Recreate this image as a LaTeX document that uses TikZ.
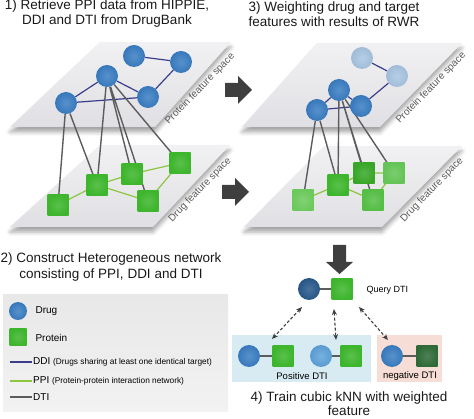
\documentclass[tikz,border=0pt]{standalone}
\usepackage{fontspec}
\setmainfont{Liberation Sans}
\usetikzlibrary{shadows.blur,arrows.meta}
\definecolor{cDrug}{HTML}{3A7EC4}
\definecolor{cDrugLight}{HTML}{A9C6E3}
\definecolor{cDrugMid}{HTML}{5EA3DB}
\definecolor{cDrugDark}{HTML}{285A8C}
\definecolor{cProt}{HTML}{3DB52C}
\definecolor{cProtLight}{HTML}{6CC95C}
\definecolor{cProtDark}{HTML}{2E6A38}
\definecolor{cDDI}{HTML}{3B3D8C}
\definecolor{cPPI}{HTML}{8CC63F}
\definecolor{cDTI}{HTML}{5C5C5C}
\definecolor{cArrow}{HTML}{3F3F3F}
\definecolor{cPlaneT}{HTML}{F1F1F3}
\definecolor{cPlaneB}{HTML}{E0E0E4}
\definecolor{cPos}{HTML}{D9EBF2}
\definecolor{cNeg}{HTML}{F6DDD5}
\pgfdeclarelayer{bg}\pgfdeclarelayer{mid}\pgfsetlayers{bg,mid,main}

\begin{document}
\begin{tikzpicture}[x=1pt,y=-1pt,
  drug/.style={circle,minimum size=22pt,inner sep=0pt,inner color=#1!85!white,outer color=#1!95!black},
  drug/.default=cDrug,
  prot/.style={rectangle,minimum size=21pt,inner sep=0pt,inner color=#1!85!white,outer color=#1},
  prot/.default=cProt,
  ddi/.style={cDDI,line width=1.2pt},
  ppi/.style={cPPI,line width=1.2pt},
  dti/.style={cDTI,line width=1.4pt},
  plane/.style={top color=cPlaneT,bottom color=cPlaneB,
    blur shadow={shadow xshift=0pt,shadow yshift=-5pt,shadow blur radius=4pt,shadow opacity=35}},
  planelbl/.style={rotate=46,text=black!65,font=\fontsize{10}{11}\selectfont},
  title/.style={align=center,text=black!90,font=\fontsize{13.5}{15.5}\selectfont},
  bigarrow/.style={fill=cArrow},
  simarr/.style={cArrow,densely dashed,line width=1.1pt,{Stealth[length=6pt,width=5pt]}-{Stealth[length=6pt,width=5pt]}}]
\useasboundingbox (0,0) rectangle (474,419);

% feature planes
\begin{pgfonlayer}{bg}
\shade[plane] (100,42)--(231,42)--(155,127)--(10,127)--cycle;
\shade[plane] (100,145)--(230,145)--(153,227)--(10,227)--cycle;
\shade[plane] (317,43)--(462,43)--(380,127)--(242,127)--cycle;
\shade[plane] (324,146)--(462,146)--(382,227)--(244,227)--cycle;
\fill[cPos] (232,335) rectangle (371,382);
\fill[cNeg] (377,335) rectangle (442,382);
\shade[top color=black!9,bottom color=black!5] (3,295) rectangle (228,412);
\end{pgfonlayer}
\node[planelbl] (pl1) at (200,89) {Protein feature space};
\node[planelbl] (pl2) at (200,190) {Drug feature space};
\node[planelbl] (pl3) at (431,88) {Protein feature space};
\node[planelbl] (pl4) at (432,190) {Drug feature space};

% 1) raw network
\node[drug] (a1) at (134,56) {};
\node[drug] (b1) at (181,62) {};
\node[drug] (c1) at (107,76) {};
\node[drug] (d1) at (148,97) {};
\node[drug] (e1) at (66,103) {};
\node[prot] (s11) at (58,205) {};
\node[prot] (s12) at (97,185) {};
\node[prot] (s13) at (132,174) {};
\node[prot] (s14) at (180,163) {};
\node[prot] (s15) at (148,201) {};
\begin{pgfonlayer}{mid}
\draw[ddi] (a1)--(b1) (b1)--(d1) (c1)--(e1) (c1)--(d1) (e1)--(d1);
\draw[ppi] (s11)--(s12) (s12)--(s13) (s12)--(s15) (s13)--(s14) (s14)--(s15);
\draw[dti] (e1)--(s11) (e1)--(s12) (c1)--(s12) (c1)--(s13) (c1)--(s15) (c1)--(s14);
\end{pgfonlayer}

% 3) weighted network
\node[drug=cDrugLight] (a3) at (362,58) {};
\node[drug=cDrugLight] (b3) at (397,76) {};
\node[drug] (c3) at (339,90) {};
\node[drug] (d3) at (361,106) {};
\node[drug] (e3) at (317,110) {};
\node[prot=cProtLight] (s31) at (303,200) {};
\node[prot] (s32) at (338,185) {};
\node[prot=cProt!92!black] (s33) at (364,173) {};
\node[prot=cProt!80!white] (s34) at (394,173) {};
\node[prot=cProt!88!white] (s35) at (373,200) {};
\begin{pgfonlayer}{mid}
\draw[ddi] (a3)--(b3) (b3)--(d3) (c3)--(e3) (c3)--(d3) (e3)--(d3);
\draw[ppi] (s31)--(s32) (s32)--(s33) (s32)--(s35) (s33)--(s34) (s34)--(s35);
\draw[dti] (e3)--(s31) (e3)--(s32) (c3)--(s32) (c3)--(s33) (c3)--(s35) (c3)--(s34);
\end{pgfonlayer}

% block arrows
\fill[bigarrow] (225,83)--(238,83)--(238,76)--(252,90)--(238,104)--(238,97)--(225,97)--cycle;
\fill[bigarrow] (222,185)--(235,185)--(235,178)--(249,192)--(235,206)--(235,199)--(222,199)--cycle;
\fill[bigarrow] (333,245)--(346,245)--(346,262)--(353,262)--(339.5,274)--(326,262)--(333,262)--cycle;

% titles
\node[title] (t1) at (107,13.5) {1) Retrieve PPI data from HIPPIE,\\DDI and DTI from DrugBank};
\node[title] (t3) at (334,14) {3) Weighting drug and target\\features with results of RWR};
\node[title] (t2) at (111,267) {2) Construct Heterogeneous network\\consisting of PPI, DDI and DTI};
\node[title,font=\fontsize{13.5}{14.5}\selectfont] (t4) at (349,403.5) {4) Train cubic kNN with weighted\\feature};

% legend
\node[drug,minimum size=18pt] (lgdrug) at (18,311) {};
\node[anchor=west,font=\fontsize{10}{12}\selectfont] (lgdrugt) at (32,311) {Drug};
\node[prot,minimum size=17pt] (lgprot) at (18,337) {};
\node[anchor=west,font=\fontsize{10}{12}\selectfont] (lgprott) at (32,338) {Protein};
\coordinate (lgd1) at (10,362); \coordinate (lgd2) at (32,362);
\coordinate (lgp1) at (10,381); \coordinate (lgp2) at (32,381);
\coordinate (lgt1) at (10,397); \coordinate (lgt2) at (32,397);
\draw[ddi] (lgd1)--(lgd2); \draw[ppi] (lgp1)--(lgp2); \draw[dti] (lgt1)--(lgt2);
\node[anchor=west,inner sep=1pt,font=\fontsize{10}{12}\selectfont] (lgddi) at (lgd2) {DDI {\fontsize{8.3}{10}\selectfont(Drugs sharing at least one identical target)}};
\node[anchor=west,inner sep=1pt,font=\fontsize{10}{12}\selectfont] (lgppi) at (lgp2) {PPI {\fontsize{8.3}{10}\selectfont(Protein-protein interaction network)}};
\node[anchor=west,inner sep=1pt,font=\fontsize{10}{12}\selectfont] (lgdti) at (lgt2) {DTI};

% 4) kNN
\node[drug=cDrugDark] (qd) at (309,289) {};
\node[prot] (qp) at (342,289) {};
\node[anchor=west,font=\fontsize{9}{11}\selectfont] (ql) at (363,290) {Query DTI};
\node[drug] (pd1) at (249,356) {};
\node[prot] (pp1) at (283,356) {};
\node[drug=cDrugMid] (pd2) at (321,356) {};
\node[prot] (pp2) at (351,356) {};
\node[drug] (nd) at (392,356) {};
\node[prot=cProtDark] (np) at (427,356) {};
\draw[dti,line width=1.4pt] (qd)--(qp) (pd1)--(pp1) (pd2)--(pp2) (nd)--(np);
\node[font=\fontsize{9.5}{11}\selectfont] (posl) at (302,376) {Positive DTI};
\node[font=\fontsize{9.5}{11}\selectfont] (negl) at (410,376) {negative DTI};
\coordinate (k1a) at (302,307); \coordinate (k1b) at (272,339);
\coordinate (k2a) at (334,309); \coordinate (k2b) at (336,340);
\coordinate (k3a) at (359,307); \coordinate (k3b) at (388,340);
\draw[simarr] (k1a)--(k1b);
\draw[simarr] (k2a)--(k2b);
\draw[simarr] (k3a)--(k3b);
\end{tikzpicture}
\end{document}
